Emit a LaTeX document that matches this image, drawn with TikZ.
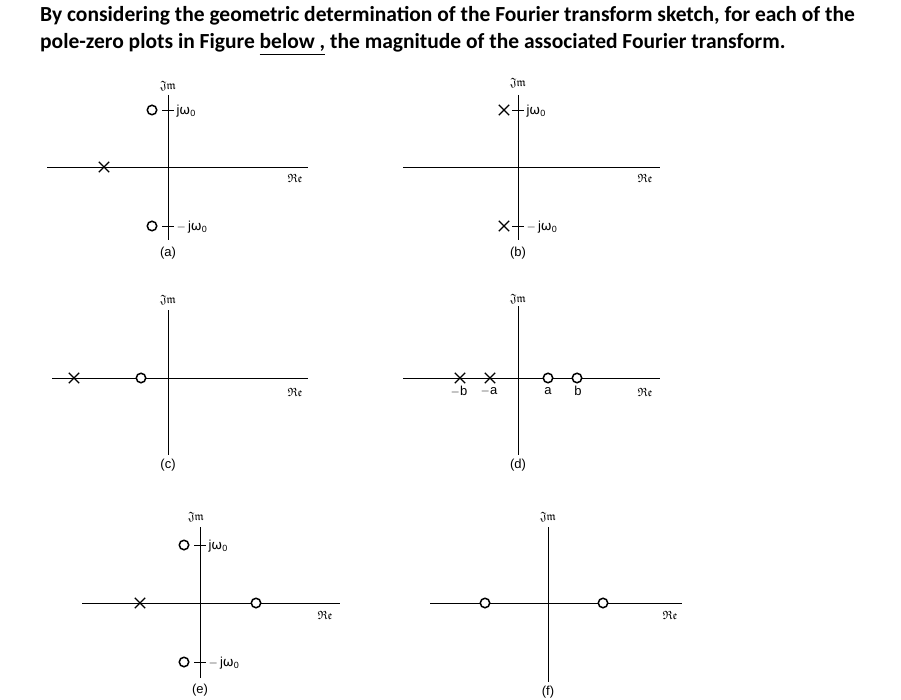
\documentclass[tikz,border=0pt]{standalone}
\usepackage{fontspec}
\usepackage{amsfonts}
\setmainfont{Carlito}
\setsansfont{Liberation Sans}
\newfontfamily\djv{DejaVu Sans}
\newcommand{\jwz}{j{\djv ω}\raisebox{-2.5pt}{\fontsize{9}{10}\selectfont 0}}
\usetikzlibrary{shapes.misc}
\begin{document}
\begin{tikzpicture}[x=1pt,y=-1pt,
  ax/.style={line width=0.7pt},
  pole/.style={cross out,draw,line width=1.3pt,minimum size=9pt,inner sep=0pt},
  zero/.style={circle,draw,line width=1.5pt,minimum size=9.5pt,inner sep=0pt},
  lab/.style={font=\sffamily\fontsize{13}{15}\selectfont},
  sym/.style={font=\fontsize{12}{14}\selectfont},
  tick/.style={line width=0.7pt}]
\useasboundingbox (0,0) rectangle (901,700);
\node[anchor=west,inner sep=0pt,font=\bfseries\fontsize{21.5}{24}\selectfont] (t1) at (40,16) {By considering the geometric determination of the Fourier transform sketch, for each of the};
\node[anchor=west,inner sep=0pt,font=\bfseries\fontsize{21.5}{24}\selectfont] (t2) at (40,45) {pole-zero plots in Figure \underline{below ,} the magnitude of the associated Fourier transform.};
% (a)
\draw[ax] (168,95) -- (168,240); \draw[ax] (47,167) -- (308,167);
\node[pole,fill=white] (a1) at (104,167) {};
\node[zero] (a2) at (152,110) {}; \node[zero] (a3) at (152,226) {};
\draw[tick] (162,110) -- (174,110); \draw[tick] (162,226) -- (174,226);
\node[lab,anchor=west] at (173,111) {\jwz};
\node[lab,anchor=west] at (173,227) {$-$\,\jwz};
\node[sym] at (168,86) {$\mathfrak{Jm}$}; \node[sym] at (295,178) {$\mathfrak{Re}$};
\node[lab] at (168,253) {(a)};
% (b)
\draw[ax] (518,95) -- (518,240); \draw[ax] (403,167) -- (660,167);
\node[pole] (b1) at (504,110) {}; \node[pole] (b2) at (504,226) {};
\draw[tick] (512,110) -- (524,110); \draw[tick] (512,226) -- (524,226);
\node[lab,anchor=west] at (523,111) {\jwz};
\node[lab,anchor=west] at (523,227) {$-$\,\jwz};
\node[sym] at (518,83) {$\mathfrak{Jm}$}; \node[sym] at (645,178) {$\mathfrak{Re}$};
\node[lab] at (518,253) {(b)};
% (c)
\draw[ax] (168,310) -- (168,455); \draw[ax] (52,378) -- (308,378);
\node[pole,fill=white] (c1) at (74,378) {}; \node[zero,fill=white] (c2) at (141,378) {};
\node[sym] at (168,300) {$\mathfrak{Jm}$}; \node[sym] at (295,392) {$\mathfrak{Re}$};
\node[lab] at (168,465) {(c)};
% (d)
\draw[ax] (518,306) -- (518,455); \draw[ax] (403,378) -- (660,378);
\node[pole,fill=white] (d1) at (460,378) {}; \node[pole,fill=white] (d2) at (490,378) {};
\node[zero,fill=white] (d3) at (548,378) {}; \node[zero,fill=white] (d4) at (577,378) {};
\node[lab] at (459,391) {$-$b}; \node[lab] at (489,391) {$-$a};
\node[lab] at (548,391) {a}; \node[lab] at (578,391) {b};
\node[sym] at (518,299) {$\mathfrak{Jm}$}; \node[sym] at (645,392) {$\mathfrak{Re}$};
\node[lab] at (518,465) {(d)};
% (e)
\draw[ax] (200,527) -- (200,678); \draw[ax] (82,603) -- (340,603);
\node[pole,fill=white] (e1) at (140,603) {}; \node[zero,fill=white] (e2) at (256,603) {};
\node[zero] (e3) at (184,545) {}; \node[zero] (e4) at (184,662) {};
\draw[tick] (194,545) -- (206,545); \draw[tick] (194,662) -- (206,662);
\node[lab,anchor=west] at (205,546) {\jwz};
\node[lab,anchor=west] at (205,663) {$-$\,\jwz};
\node[sym] at (196,517) {$\mathfrak{Jm}$}; \node[sym] at (325,615) {$\mathfrak{Re}$};
\node[lab] at (200,690) {(e)};
% (f)
\draw[ax] (548,527) -- (548,682); \draw[ax] (430,603) -- (682,603);
\node[zero,fill=white] (f1) at (485,603) {}; \node[zero,fill=white] (f2) at (603,603) {};
\node[sym] at (548,517) {$\mathfrak{Jm}$}; \node[sym] at (670,615) {$\mathfrak{Re}$};
\node[lab] at (548,692) {(f)};
\end{tikzpicture}
\end{document}
